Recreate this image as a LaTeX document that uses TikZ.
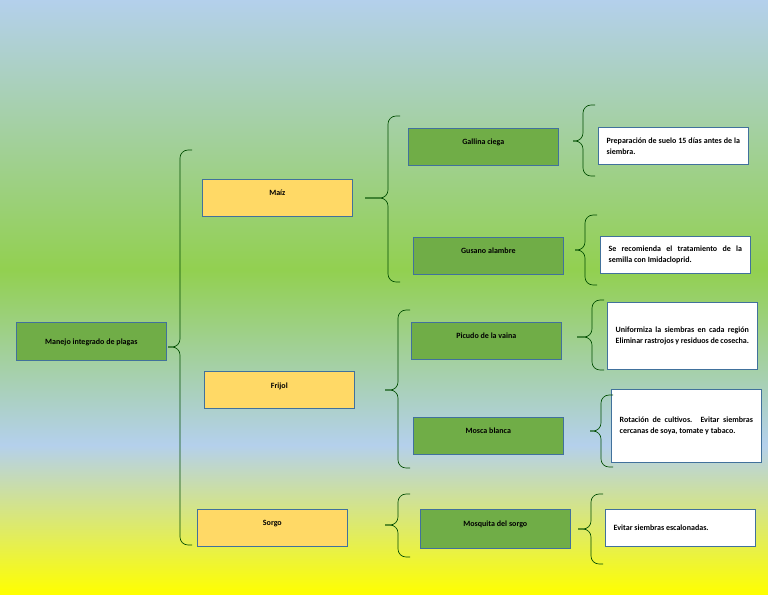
\documentclass[tikz,border=0pt]{standalone}
\usepackage{fontspec}
\setmainfont{Carlito}
\usetikzlibrary{positioning}
\definecolor{boxgreen}{HTML}{70AD47}
\definecolor{boxyellow}{HTML}{FFD966}
\definecolor{boxedge}{HTML}{41719C}
\definecolor{skyblue}{HTML}{B4D0EC}
\definecolor{leafgreen}{HTML}{92D050}
\definecolor{sunyellow}{HTML}{FFFF00}
\newcommand{\curly}[5]{% tip x, tip y, spine x, top y, bottom y
  \draw[brace] ({#3+12},#4) -- (#3,#4) -- (#3,#2) -- (#1,#2);
  \draw[brace] ({#3+12},#5) -- (#3,#5) -- (#3,#2) -- (#1,#2);
}
\begin{document}
\begin{tikzpicture}[x=0.75pt,y=-0.75pt,
  box/.style={draw=boxedge, line width=0.5pt, anchor=north west, minimum width=112.5pt, minimum height=28pt, inner sep=0pt},
  green/.style={box, fill=boxgreen},
  yellow/.style={box, fill=boxyellow},
  note/.style={draw=boxedge, line width=0.5pt, fill=white, anchor=north west, minimum width=112.5pt, text width=100pt, align=justify, inner sep=4pt, font=\fontsize{6}{8.5}\selectfont\bfseries},
  txt/.style={anchor=north, yshift=-5pt, font=\fontsize{6}{8}\selectfont\bfseries},
  brace/.style={draw=black!70!green, line width=0.5pt, rounded corners=6pt}
]
\useasboundingbox (0,0) rectangle (768,594);
\shade[top color=skyblue, bottom color=leafgreen] (0,0) rectangle (768,270);
\shade[top color=leafgreen, bottom color=skyblue] (0,270) rectangle (768,445);
\shade[top color=skyblue, bottom color=sunyellow] (0,445) rectangle (768,594);

% root
\node (manejo) [green, minimum height=28.5pt] at (16,322) {};
\node [txt, yshift=-4pt] at (manejo.north) {Manejo integrado de plagas};

% crops
\node (maiz) [yellow] at (202,179) {};
\node [txt] at (maiz.north) {Maíz};
\node (frijol) [yellow] at (204,371) {};
\node [txt] at (frijol.north) {Frijol};
\node (sorgo) [yellow] at (197,509) {};
\node [txt] at (sorgo.north) {Sorgo};

% pests
\node (gallina) [green] at (408,128) {};
\node [txt] at (gallina.north) {Gallina ciega};
\node (gusano) [green] at (413,237) {};
\node [txt] at (gusano.north) {Gusano alambre};
\node (picudo) [green] at (411,322) {};
\node [txt] at (picudo.north) {Picudo de la vaina};
\node (mosca) [green] at (413,417) {};
\node [txt] at (mosca.north) {Mosca blanca};
\node (mosquita) [green, minimum height=29pt] at (420,509) {};
\node [txt] at (mosquita.north) {Mosquita del sorgo};

% control measures
\node (prep) [note, minimum height=28pt] at (598,127) {Preparación de suelo 15 días antes de la siembra.};
\node (recom) [note, minimum height=28pt] at (600,236) {Se recomienda el tratamiento de la semilla con Imidacloprid.};
\node (unif) [note, minimum height=50pt] at (607,302) {Uniformiza la siembras en cada región Eliminar rastrojos y residuos de cosecha.};
\node (rota) [note, minimum height=55pt] at (611,389) {Rotación de cultivos. Evitar siembras cercanas de soya, tomate y tabaco.};
\node (evitar) [note, minimum height=28pt] at (605,509) {Evitar siembras escalonadas.};

% braces
\curly{168}{347}{180}{150}{545}
\curly{365}{198}{388}{116}{282}
\curly{385}{390}{398}{310}{468}
\curly{385}{525}{398}{494}{557}
\curly{573}{141}{583}{105}{176}
\curly{575}{250}{585}{215}{285}
\curly{577}{337}{592}{300}{370}
\curly{590}{431}{601}{395}{467}
\curly{578}{529}{591}{494}{564}
\end{tikzpicture}
\end{document}
